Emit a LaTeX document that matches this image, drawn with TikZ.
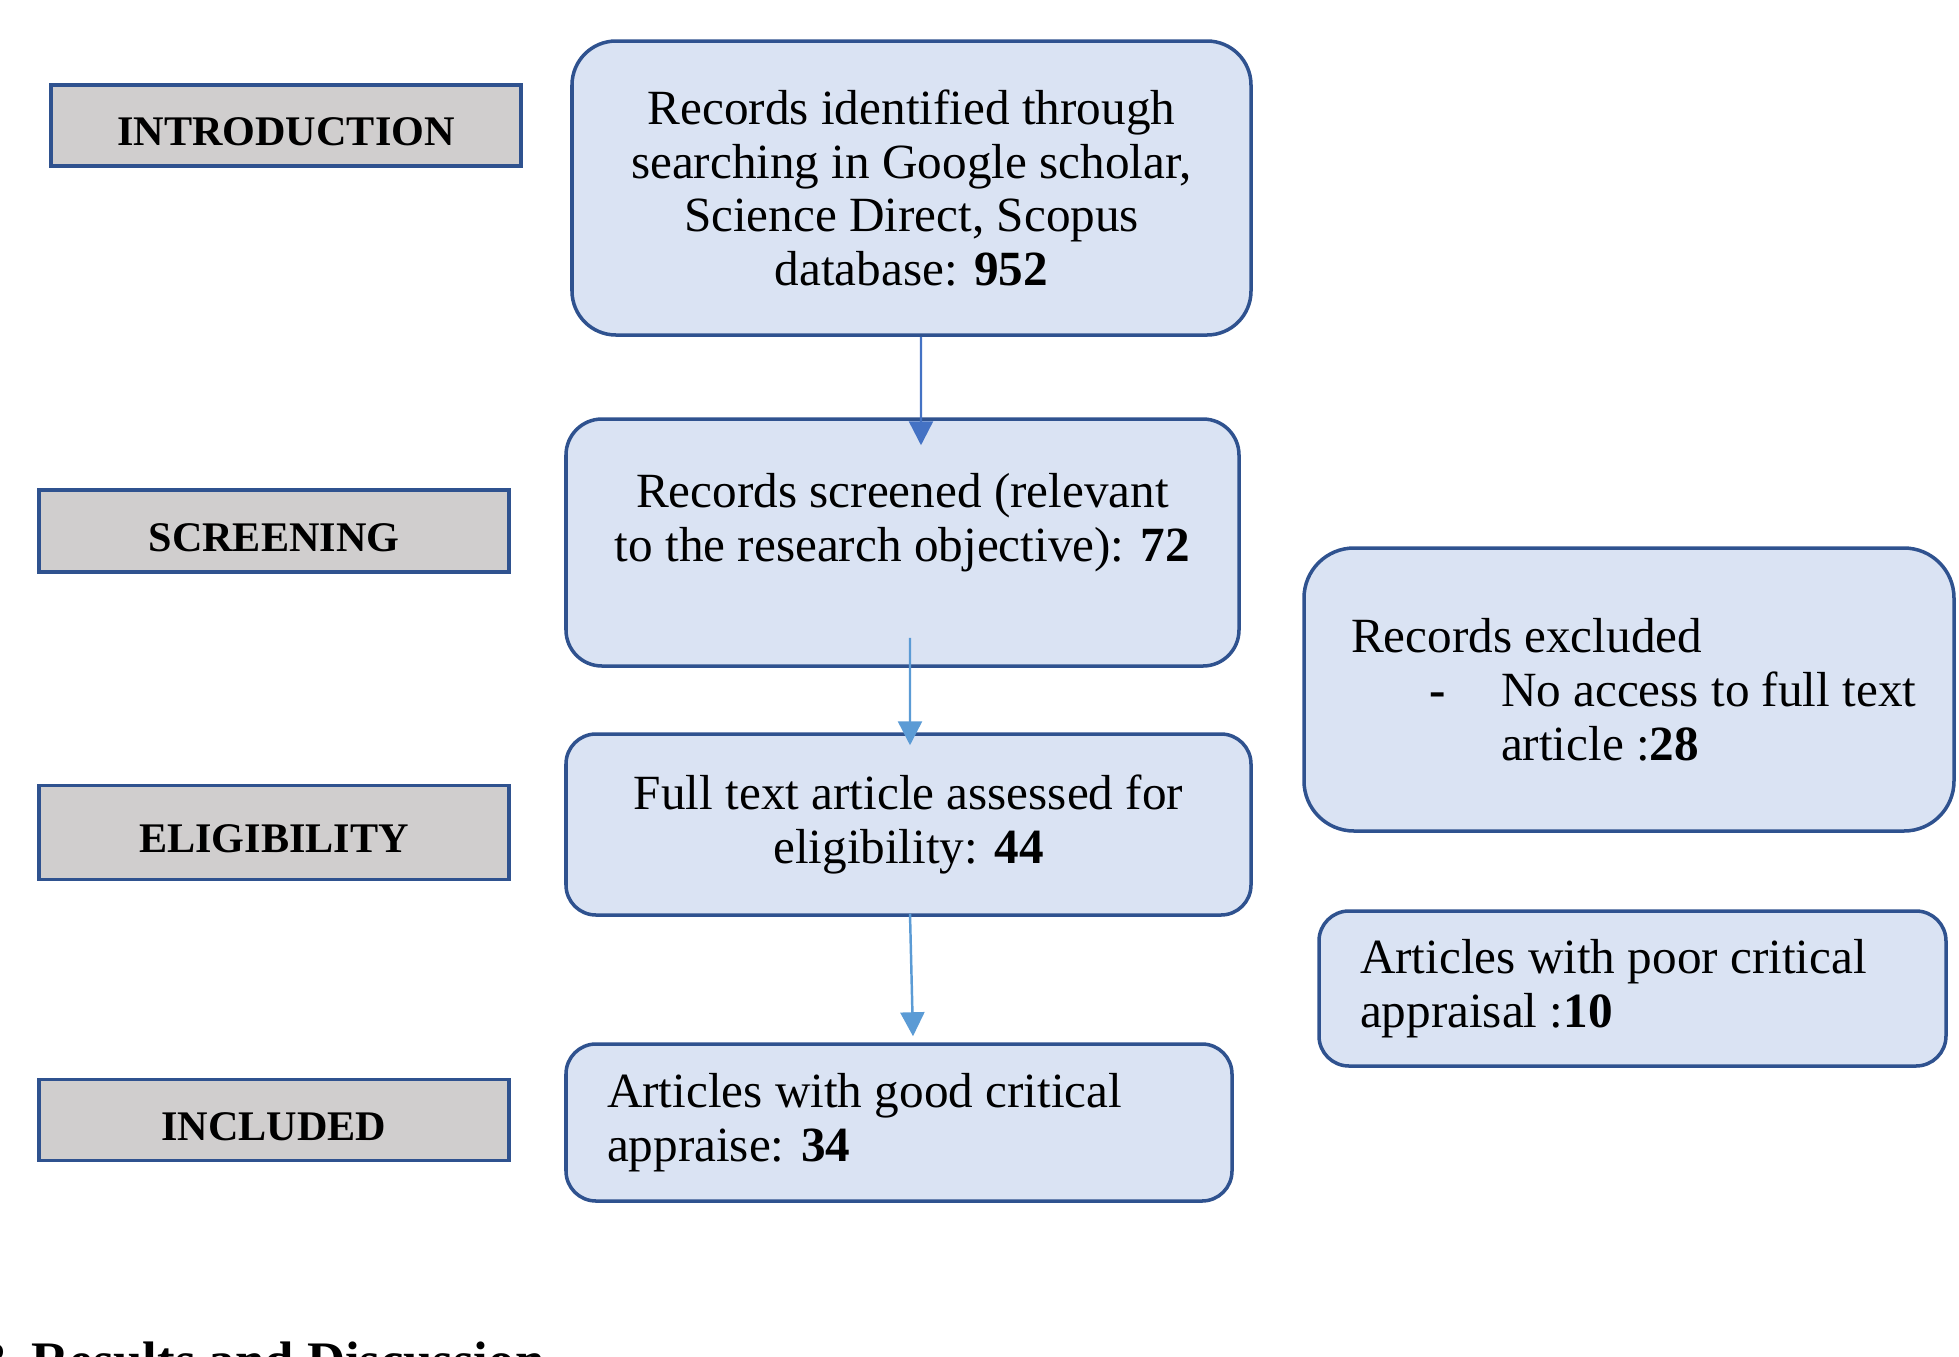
\documentclass[tikz,border=0pt]{standalone}
\usepackage{fontspec}
\setmainfont{Liberation Serif}
\usetikzlibrary{positioning,calc,arrows.meta}
\definecolor{flowfill}{RGB}{218,227,243}
\definecolor{flowedge}{RGB}{47,82,143}
\definecolor{phasegray}{RGB}{208,206,206}
\definecolor{arrowdark}{RGB}{68,114,196}
\definecolor{arrowlight}{RGB}{91,155,213}

\begin{document}
\begin{tikzpicture}[
    phase/.style={rectangle, draw=flowedge, fill=phasegray, line width=1pt,
                  minimum width=4.70cm, text height=0.40cm, text depth=0pt,
                  font=\fontsize{12}{14}\selectfont\bfseries},
    flow/.style={rectangle, draw=flowedge, fill=flowfill, line width=1pt,
                 align=center, font=\fontsize{14}{15.3}\selectfont},
    flowleft/.style={flow, align=flush left, inner xsep=0.41cm},
    arrow/.style={-{Triangle[width=0.24cm,length=0.24cm]}, line width=0.7pt, draw=arrowlight}
]
\useasboundingbox (0,0) rectangle (19.59,-13.56);

% phase labels
\node[phase, minimum height=0.81cm] (intro) at (2.86,-1.255) {INTRODUCTION};
\node[phase, minimum height=0.82cm] (screen) at (2.74,-5.31) {SCREENING};
\node[phase, minimum height=0.94cm, below=2.10cm of screen] (elig) {ELIGIBILITY};
\node[phase, minimum height=0.81cm, below=1.965cm of elig] (incl) {INCLUDED};

% main flow
\node[flow, rounded corners=0.44cm, minimum width=6.79cm, minimum height=2.94cm] (ident) at (9.115,-1.88) {
    Records identified through\\
    searching in Google scholar,\\
    Science Direct, Scopus\\
    database: \textbf{952}
};
\node[flow, rounded corners=0.36cm, minimum width=6.73cm, minimum height=2.47cm] (screened) at (9.025,-5.425) {
    Records screened (relevant\\
    to the research objective): \textbf{72}\rule[-0.5cm]{0pt}{0.5cm}
};
\node[flow, rounded corners=0.3cm, minimum width=6.85cm, minimum height=1.81cm] (fulltext) at (9.085,-8.245) {
    Full text article assessed for\\
    eligibility: \textbf{44}
};
\node[flowleft, rounded corners=0.3cm, text width=5.84cm, minimum height=1.57cm] (good) at (8.99,-11.225) {
    Articles with good critical\\
    appraise: \textbf{34}
};

% excluded side
\node[flowleft, rounded corners=0.5cm, inner xsep=0.47cm, text width=5.56cm, minimum height=2.83cm] (excluded) at (16.29,-6.895) {
    Records excluded\\
    \hspace*{0.78cm}\makebox[0.72cm][l]{\textbf{-}}\mbox{No access to full text}\\
    \hspace*{1.5cm}article :\textbf{28}
};
\node[flowleft, rounded corners=0.3cm, text width=5.45cm, minimum height=1.55cm] (poor) at (16.325,-9.885) {
    Articles with poor critical\\
    appraisal :\textbf{10}
};

\draw[arrow, draw=arrowdark] ($(ident.south)+(0.095,0)$) -- ($(screened.north)+(0.185,-0.28)$);
\draw[arrow] ($(screened.south)+(0.075,0.30)$) -- ($(fulltext.north)+(0.015,-0.13)$);
\draw[arrow] ($(fulltext.south)+(0.015,0.03)$) -- ($(good.north)+(0.14,0.06)$);

% next section heading, cut by the page edge
\node[anchor=base west, inner sep=0, font=\fontsize{15}{17}\selectfont\bfseries] (nexthead) at (-0.20,-13.78) {\makebox[0.51cm][l]{3.}Results and Discussion};

\end{tikzpicture}
\end{document}
